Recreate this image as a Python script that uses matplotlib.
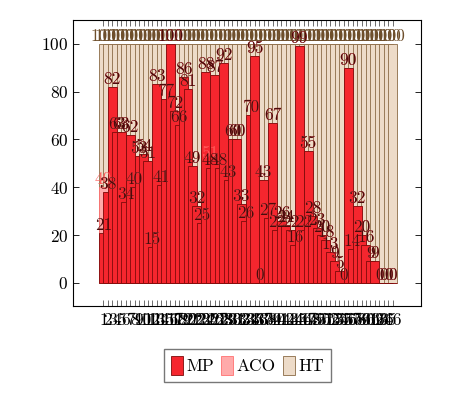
import matplotlib
matplotlib.use("Agg")
import matplotlib.pyplot as plt
import numpy as np

plt.rcParams["font.family"] = "serif"
plt.rcParams["font.serif"] = ["cmr10", "DejaVu Serif"]
plt.rcParams["axes.formatter.use_mathtext"] = True

# x categories (symbolic coords)
ids = [1, 2, 3, 4, 5, 6, 7, 8, 9, 10, 11, 12, 13, 14, 15, 16, 17, 18, 19, 20,
       21, 22, 23, 24, 25, 26, 27, 28, 29, 30, 31, 32, 33, 34, 35, 36, 37, 38, 39, 40,
       41, 42, 43, 44, 45, 46, 47, 48, 49, 50, 51, 52, 53, 54, 55, 56, 57, 58, 59, 60,
       61, 62, 63, 64, 65, 66]

mp = [21, 38, 82, 63, 63, 34, 62, 40, 53, 54, 51, 15, 83, 41, 77, 100, 72, 66, 86, 81,
      49, 32, 25, 88, 48, 87, 48, 92, 43, 60, 60, 33, 26, 70, 95, 0, 43, 27, 67, 22,
      26, 24, 22, 16, 99, 22, 55, 28, 23, 20, 18, 13, 9, 5, 0, 90, 14, 32, 20, 16,
      9, 9, 0, 0, 0, 0]

aco = [40, 38, 82, 63, 63, 34, 62, 40, 53, 54, 51, 15, 83, 41, 77, 100, 72, 66, 86, 81,
       49, 32, 25, 88, 51, 87, 48, 92, 43, 60, 60, 33, 26, 70, 95, 0, 43, 27, 67, 22,
       26, 24, 22, 16, 99, 22, 55, 28, 23, 20, 18, 13, 9, 5, 0, 90, 14, 32, 20, 16,
       9, 9, 0, 0, 0, 0]

ht = [100] * len(ids)

fig = plt.figure(figsize=(4.74, 4.03), dpi=100)
ax = fig.add_axes([0.154, 0.241, 0.734, 0.710])

x = np.arange(1, len(ids) + 1)
w = 2.02
fs = 12.5

b_ht = ax.bar(x, ht, width=w, color="#eddbc8", edgecolor="#8a6a45", linewidth=0.6, zorder=1, label="HT")
b_aco = ax.bar(x, aco, width=w, color="#ffaaaa", edgecolor="#ff7070", linewidth=0.6, zorder=2, label="ACO")
b_mp = ax.bar(x, mp, width=w, color="#f5262e", edgecolor="#7d0a0a", linewidth=0.6, zorder=3, label="MP")

ax.bar_label(b_ht, labels=[str(v) for v in ht], padding=0, fontsize=fs, color="#6e4f2c", zorder=4)
ax.bar_label(b_aco, labels=[str(v) for v in aco], padding=0, fontsize=fs, color="#ff5a5a", zorder=5)
ax.bar_label(b_mp, labels=[str(v) for v in mp], padding=0, fontsize=fs, color="#4a0b0b", zorder=6)

ax.set_xlim(-5.85, 72.35)
ax.set_ylim(-9.6, 110)
ax.set_xticks(x)
ax.set_xticklabels([str(v) for v in ids], fontsize=fs)
ax.set_yticks([0, 20, 40, 60, 80, 100])
ax.tick_params(axis="y", labelsize=fs, direction="in", right=True, length=4, width=0.6)
ax.tick_params(axis="x", direction="in", top=True, length=4, width=0.4, pad=5)
for s in ax.spines.values():
    s.set_linewidth(0.8)

handles = [b_mp, b_aco, b_ht]
fig.legend(handles, ["MP", "ACO", "HT"], loc="center", bbox_to_anchor=(0.522, 0.094),
           ncol=3, fontsize=fs, frameon=True, fancybox=False, edgecolor="#555555",
           handlelength=0.7, handleheight=1.3, handletextpad=0.2, columnspacing=0.4,
           borderpad=0.4)

fig.savefig("out.png", dpi=100)
